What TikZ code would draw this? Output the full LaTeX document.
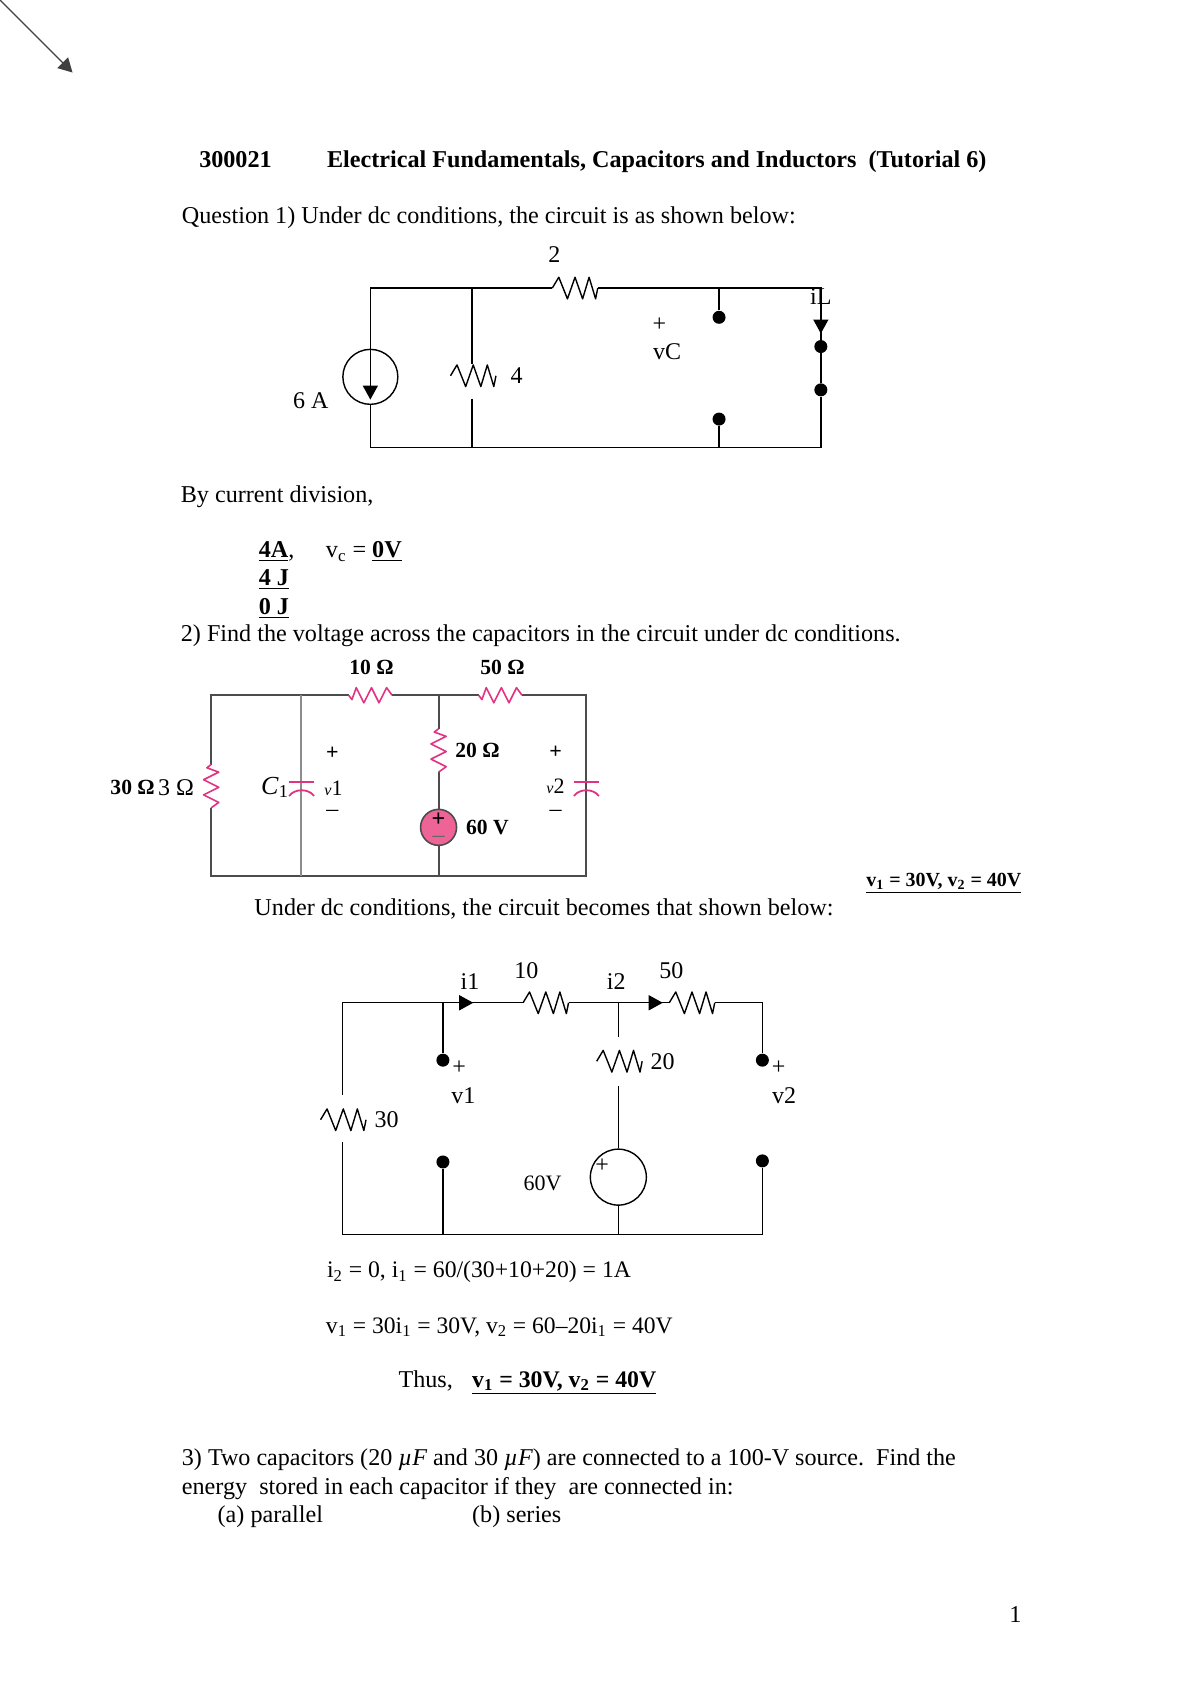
\documentclass[tikz,border=0pt]{standalone}
\usepackage{fontspec}
\setmainfont{Liberation Serif}
\usetikzlibrary{arrows.meta}
\definecolor{wiregray}{gray}{0.3}
\definecolor{capgray}{gray}{0.55}
\definecolor{rospink}{RGB}{226,50,130}
\definecolor{srcpink}{RGB}{238,100,150}
\newcommand{\utext}[1]{\underline{#1}}
\tikzset{
  wire/.style={draw=black,line width=0.7pt},
  gwire/.style={draw=wiregray,line width=1pt},
  lwire/.style={draw=capgray,line width=0.7pt},
  tiparrow/.style={-{Triangle[length=7pt,width=7.5pt]}},
  dotn/.style={circle,fill=black,inner sep=0,minimum size=6.5pt},
  txt/.style={anchor=base west,inner sep=0,outer sep=0,font=\fontsize{12.08}{14}\selectfont},
  lab/.style={anchor=center,inner sep=0,outer sep=0,font=\fontsize{12}{14}\selectfont},
  blab/.style={lab,font=\fontsize{10.8}{14}\selectfont\bfseries},
  hres/.pic={\draw[black,line width=0.7pt,line join=round] (0,0)--(6,-10)--(14,10)--(21,-10)--(28,10)--(34,-10)--(40,10)--(42,0);},
  pres/.pic={\draw[rospink,line width=0.8pt,line join=round] (0,0)--(3,4)--(7,-7)--(14,7)--(21,-7)--(28,7)--(35,-7)--(40,0);},
}
\begin{document}
\begin{tikzpicture}[x=0.54152pt,y=-0.54152pt]
\useasboundingbox (0,0) rectangle (1108,1568);
\fill[white] (0,0) rectangle (1108,1568);

% top arrow
\coordinate (ta) at (0,0);
\coordinate (tb) at (67,67);
\draw[wire,draw=black!75,tiparrow] (ta) -- (tb);

% header
\node[txt,font=\fontsize{12.08}{14}\selectfont\bfseries] (h1) at (184,155) {300021};
\node[txt,font=\fontsize{12.08}{14}\selectfont\bfseries] (h2) at (302,155) {Electrical Fundamentals, Capacitors and Inductors~~(Tutorial 6)};
\node[txt] (q1) at (168,206) {Question 1) Under dc conditions, the circuit is as shown below:};

% circuit 1
\coordinate (a1) at (342,266); \coordinate (a2) at (436,266); \coordinate (a3) at (510,266);
\coordinate (a4) at (552,266); \coordinate (a5) at (664,266); \coordinate (a6) at (758,266);
\coordinate (b1) at (342,413); \coordinate (b2) at (436,413); \coordinate (b5) at (664,413); \coordinate (b6) at (758,413);
\coordinate (r4t) at (436,336); \coordinate (r4b) at (436,368);
\node[circle,draw=black,line width=0.7pt,inner sep=0,minimum size=27.5pt] (s6) at (342,348) {};
\coordinate (s6t) at (342,323); \coordinate (s6a) at (342,369);
\node[dotn] (d1) at (664,293) {};
\node[dotn] (d2) at (664,387) {};
\node[dotn] (d3) at (758,320) {};
\node[dotn] (d4) at (758,360) {};
\coordinate (arL) at (758,308);
\draw[wire] (s6.north) -- (a1) -- (a3);
\draw[wire] (a4) -- (a6) -- (arL);
\draw[wire] (a2) -- (r4t);
\draw[wire] (r4b) -- (b2);
\draw[wire] (s6.south) -- (b1) -- (b6) -- (d4);
\draw[wire] (d4) -- (d3) -- (arL);
\draw[wire] (a5) -- (d1);
\draw[wire] (b5) -- (d2);
\draw[wire,tiparrow] (s6t) -- (s6a);
\draw[wire,tiparrow] (a6) -- (arL);
\path (a3) pic {hres};
\path (416,347) pic {hres};
\node[lab] (l2) at (512,235) {2};
\node[lab] (l4) at (477,347) {4};
\node[lab] (l6) at (287,370) {6 A};
\node[lab] (lp) at (609,300) {+};
\node[lab] (lvc) at (616,325) {vC};
\node[lab] (liL) at (758,274) {iL};

% text block
\node[txt] (t1) at (167,464) {By current division,};
\node[txt] (t2) at (239,515) {\textbf{\utext{4A}},};
\node[txt] (t3) at (301,515) {v\textsubscript{c} = \textbf{\utext{0V}}};
\node[txt] (t4) at (239,541) {\textbf{\utext{4 J}}};
\node[txt] (t5) at (239,567) {\textbf{\utext{0 J}}};
\node[txt] (t6) at (167,592) {2) Find the voltage across the capacitors in the circuit under dc conditions.};

% circuit 2
\coordinate (c1) at (195,642); \coordinate (c2) at (278,642); \coordinate (c3) at (322,642);
\coordinate (c4) at (362,642); \coordinate (c5) at (405,642); \coordinate (c6) at (442,642);
\coordinate (c7) at (482,642); \coordinate (c8) at (541,642);
\coordinate (e1) at (195,809); \coordinate (e2) at (278,809); \coordinate (e5) at (405,809); \coordinate (e8) at (541,809);
\coordinate (r30t) at (195,706); \coordinate (r30b) at (195,746);
\coordinate (r20t) at (405,673); \coordinate (r20b) at (405,713);
\node[circle,draw=wiregray,line width=0.8pt,fill=srcpink,inner sep=0,minimum size=18pt] (s60) at (405,764) {};
\draw[gwire] (r30t) -- (c1) -- (c3);
\draw[gwire] (c4) -- (c6);
\draw[gwire] (c7) -- (c8) -- (e8) -- (e1) -- (r30b);
\draw[gwire] (c5) -- (r20t);
\draw[gwire] (r20b) -- (s60.north);
\draw[gwire] (s60.south) -- (e5);
\draw[lwire] (c2) -- (e2);
\path (c3) pic {pres};
\path (c6) pic {pres};
\path (r30t) pic[rotate=-90] {pres};
\path (r20t) pic[rotate=-90] {pres};
% capacitors
\coordinate (cap1L) at (267,722); \coordinate (cap1R) at (290,722);
\coordinate (cap2L) at (530,722); \coordinate (cap2R) at (553,722);
\draw[rospink,line width=0.9pt] (cap1L) -- (cap1R);
\draw[rospink,line width=0.9pt] (cap2L) -- (cap2R);
\draw[rospink,line width=0.9pt] (267,735) .. controls (272,728) and (285,728) .. (290,735);
\draw[rospink,line width=0.9pt] (530,735) .. controls (535,728) and (548,728) .. (553,735);
\node[lab,font=\bfseries\fontsize{12}{14}\selectfont] (p601) at (405,757) {+};
\node[lab,text=black!60] (p602) at (405,775) {--};
\node[blab] (l10) at (343,616) {10 Ω};
\node[blab] (l50) at (464,616) {50 Ω};
\node[blab] (l20) at (441,693) {20 Ω};
\node[blab] (l60) at (450,764) {60 V};
\node[blab,anchor=west] (l30) at (102,727) {30 Ω};
\node[lab,anchor=east] (l3) at (179,727) {3 Ω};
\node[lab] (lC1) at (254,727) {\fontsize{13}{14}\selectfont\textit{C}\textsubscript{1}};
\node[lab,font=\bfseries\fontsize{11}{14}\selectfont] (lp1) at (307,696) {+};
\node[lab] (lv1) at (308,728) {\fontsize{8}{10}\selectfont\textit{v}\fontsize{11}{12}\selectfont 1};
\node[lab] (lm1) at (307,751) {--};
\node[lab,font=\bfseries\fontsize{11}{14}\selectfont] (lp2) at (513,695) {+};
\node[lab] (lv2) at (513,726) {\fontsize{8}{10}\selectfont\textit{v}\fontsize{11}{12}\selectfont 2};
\node[lab] (lm2) at (513,751) {--};

\node[txt,font=\fontsize{10}{12}\selectfont\bfseries] (ans) at (800,819) {\utext{v\textsubscript{1} = 30V, v\textsubscript{2} = 40V}};
\node[txt] (t7) at (235,845) {Under dc conditions, the circuit becomes that shown below:};

% circuit 3
\coordinate (f1) at (316,926); \coordinate (f2) at (409,926); \coordinate (f3) at (437,926);
\coordinate (f4) at (483,926); \coordinate (f5) at (525,926); \coordinate (f6) at (571,926);
\coordinate (f7) at (612,926); \coordinate (f8) at (618,926); \coordinate (f9) at (660,926); \coordinate (f10) at (704,926);
\coordinate (g1) at (316,1140); \coordinate (g2) at (409,1140); \coordinate (g3) at (571,1140); \coordinate (g4) at (704,1140);
\coordinate (r30u) at (316,1011); \coordinate (r30d) at (316,1055);
\coordinate (r20u) at (571,958); \coordinate (r20d) at (571,1003);
\node[dotn] (d5) at (409,979) {};
\node[dotn] (d6) at (409,1073) {};
\node[dotn] (d7) at (704,979) {};
\node[dotn] (d8) at (704,1072) {};
\node[circle,draw=black,line width=0.7pt,inner sep=0,minimum size=28pt] (s60b) at (571,1087) {};
\draw[wire] (r30u) -- (f1) -- (f4);
\draw[wire] (f5) -- (f8);
\draw[wire] (f9) -- (f10) -- (d7);
\draw[wire] (f2) -- (d5);
\draw[wire] (f6) -- (r20u);
\draw[wire] (r20d) -- (s60b.north);
\draw[wire] (s60b.south) -- (g3);
\draw[wire] (r30d) -- (g1) -- (g4) -- (d8);
\draw[wire] (g2) -- (d6);
\draw[wire,tiparrow] (f2) -- (f3);
\draw[wire,tiparrow] (f6) -- (f7);
\path (f4) pic {hres};
\path (f8) pic {hres};
\path (551,980) pic {hres};
\path (296,1034) pic {hres};
\node[lab] (li1) at (434,906) {i1};
\node[lab] (l10b) at (486,896) {10};
\node[lab] (li2) at (569,906) {i2};
\node[lab] (l50b) at (620,896) {50};
\node[lab] (l20b) at (612,980) {20};
\node[lab] (l30b) at (357,1034) {30};
\node[lab] (lp5) at (424,986) {+};
\node[lab] (lv5) at (428,1012) {v1};
\node[lab] (lp7) at (719,986) {+};
\node[lab] (lv7) at (724,1012) {v2};
\node[lab] (lp60) at (556,1076) {+};
\node[lab,font=\fontsize{11}{14}\selectfont] (l60b) at (501,1093) {60V};

% lower text
\node[txt,font=\fontsize{11.85}{14}\selectfont] (t8) at (302,1180) {i\textsubscript{2} = 0, i\textsubscript{1} = 60/(30+10+20) = 1A};
\node[txt,font=\fontsize{11.8}{14}\selectfont] (t9) at (301,1231) {v\textsubscript{1} = 30i\textsubscript{1} = 30V, v\textsubscript{2} = 60–20i\textsubscript{1} = 40V};
\node[txt] (t10) at (368,1281) {Thus,};
\node[txt,font=\fontsize{11.9}{14}\selectfont] (t11) at (436,1281) {\textbf{\utext{v\textsubscript{1} = 30V, v\textsubscript{2} = 40V}}};
\node[txt,font=\fontsize{12.05}{14}\selectfont] (t12) at (168,1353) {3) Two capacitors (20 \textit{µF} and 30 \textit{µF}) are connected to a 100-V source.~~Find the};
\node[txt] (t13) at (168,1380) {energy~~stored in each capacitor if they~~are connected in:};
\node[txt] (t14) at (201,1406) {(a) parallel};
\node[txt] (t15) at (436,1406) {(b) series};
\node[txt] (pg) at (932,1498) {1};
\end{tikzpicture}
\end{document}
